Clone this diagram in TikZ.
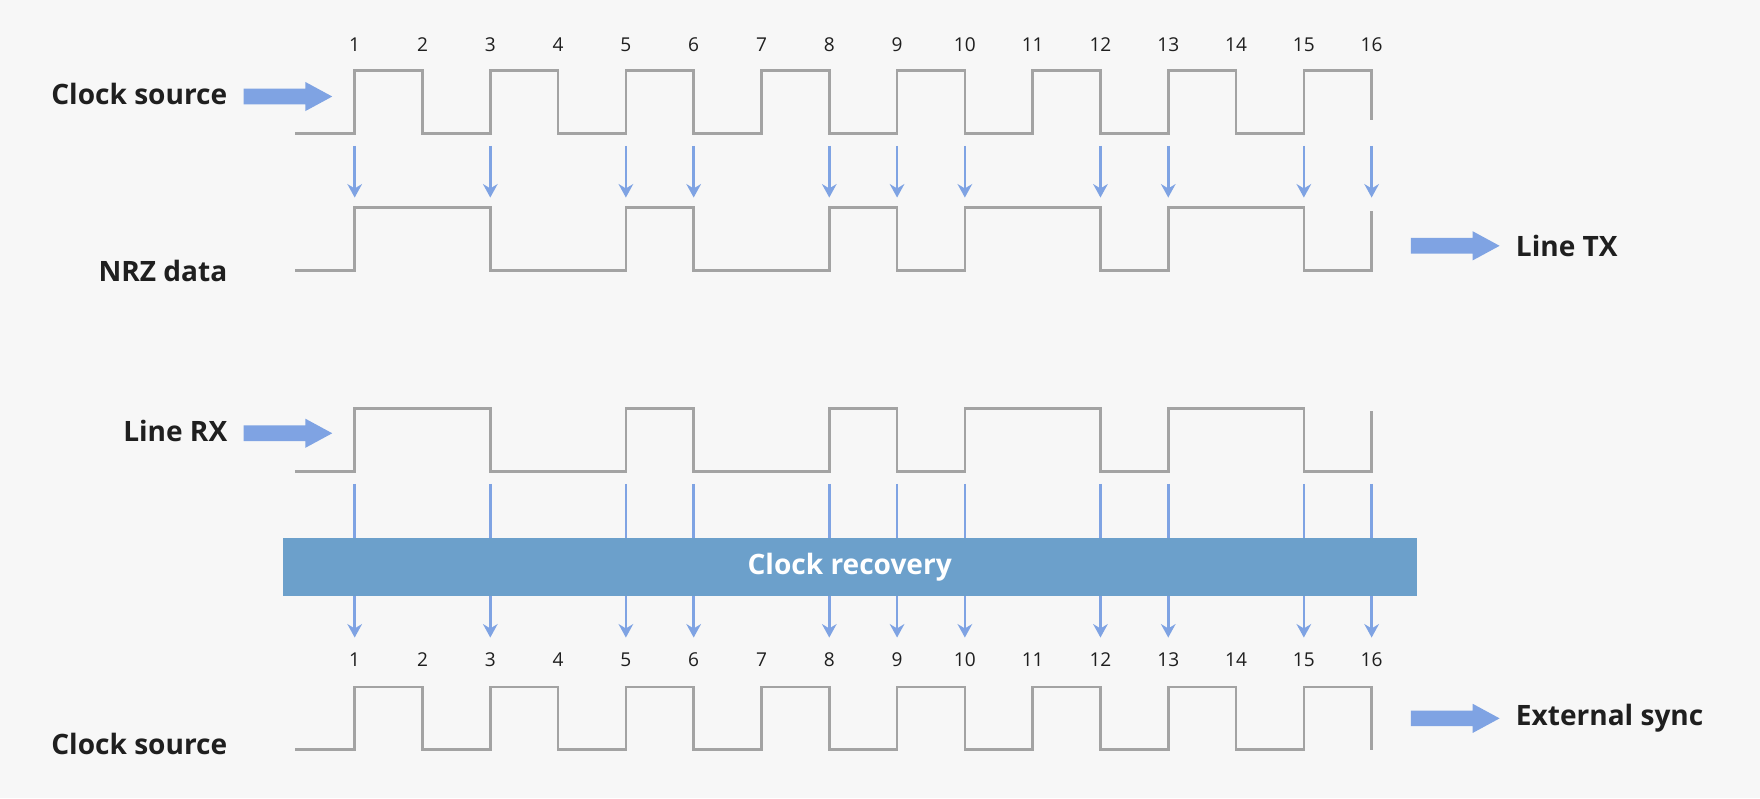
\documentclass[tikz,border=0pt]{standalone}
\usepackage{fontspec}
\setmainfont{Open Sans}
\usetikzlibrary{arrows.meta}
\definecolor{bg}{HTML}{F7F7F7}
\definecolor{wave}{HTML}{A3A3A3}
\definecolor{arr}{HTML}{7FA3E3}
\definecolor{box}{HTML}{6CA0CB}
\begin{document}
\begin{tikzpicture}[x=1pt,y=-1pt,
  wave/.style={draw=wave,line width=2.4pt,line join=miter},
  lbl/.style={font=\fontsize{25}{29}\selectfont\bfseries,text=black!88},
  num/.style={font=\fontsize{17}{20}\selectfont,text=black!88},
  tick/.style={draw=arr,line width=2.4pt,-{Stealth[length=12pt,width=13pt]}},
  tickn/.style={draw=arr,line width=2.4pt},
  fat/.style={fill=arr}]
\fill[bg] (0,0) rectangle (1568,711);
\useasboundingbox (0,0) rectangle (1568,711);
\newcommand\XX[1]{{316+60.4*(#1-1)}}
% numbers
\foreach \k in {1,...,16}{
  \node[num] (nt\k) at (\XX{\k},40) {\k};
  \node[num] (nb\k) at (\XX{\k},588) {\k};
}
% top clock
\draw[wave] (263,119) foreach \k/\a/\b in {1/119/63,2/63/119,3/119/63,4/63/119,5/119/63,6/63/119,7/119/63,8/63/119,9/119/63,10/63/119,11/119/63,12/63/119,13/119/63,14/63/119,15/119/63,16/63/107}{ -- (\XX{\k},\a) -- (\XX{\k},\b)};
% bottom clock
\draw[wave] (263,668) foreach \k/\a/\b in {1/668/612,2/612/668,3/668/612,4/612/668,5/668/612,6/612/668,7/668/612,8/612/668,9/668/612,10/612/668,11/668/612,12/612/668,13/668/612,14/612/668,15/668/612,16/612/668}{ -- (\XX{\k},\a) -- (\XX{\k},\b)};
% NRZ
\draw[wave] (263,241) foreach \k/\a/\b in {1/241/185,3/185/241,5/241/185,6/185/241,8/241/185,9/185/241,10/241/185,12/185/241,13/241/185,15/185/241,16/241/188}{ -- (\XX{\k},\a) -- (\XX{\k},\b)};
% RX
\draw[wave] (263,420) foreach \k/\a/\b in {1/420/364,3/364/420,5/420/364,6/364/420,8/420/364,9/364/420,10/420/364,12/364/420,13/420/364,15/364/420,16/420/366}{ -- (\XX{\k},\a) -- (\XX{\k},\b)};
% recovery box
\node[fill=box,minimum width=1010pt,minimum height=52pt,inner sep=0pt,text=white,font=\fontsize{25}{29}\selectfont\bfseries] (rec) at (757,505) {Clock recovery};
% ticks
\foreach \k in {1,3,5,6,8,9,10,12,13,15,16}{
  \coordinate (a\k) at (\XX{\k},130); \coordinate (b\k) at (\XX{\k},176);
  \draw[tick] (a\k) -- (b\k);
  \coordinate (c\k) at (\XX{\k},431); \coordinate (d\k) at (\XX{\k},479);
  \draw[tickn] (c\k) -- (d\k);
  \coordinate (e\k) at (\XX{\k},531); \coordinate (f\k) at (\XX{\k},568);
  \draw[tick] (e\k) -- (f\k);
}
% labels
\node[lbl,anchor=east] (l1) at (206,84) {Clock source};
\node[lbl,anchor=east] (l2) at (206,241) {NRZ data};
\node[lbl,anchor=east] (l3) at (206,384) {Line RX};
\node[lbl,anchor=east] (l4) at (206,663) {Clock source};
\node[lbl,anchor=west] (l5) at (1347,219) {Line TX};
\node[lbl,anchor=west] (l6) at (1347,640) {External sync};
% fat arrows
\newcommand\fatarrow[2]{\fill[arr] (#1,#2-7) -- (#1+55,#2-7) -- (#1+55,#2-13) -- (#1+79,#2) -- (#1+55,#2+13) -- (#1+55,#2+7) -- (#1,#2+7) -- cycle;}
\fatarrow{217}{86}
\fatarrow{217}{386}
\fatarrow{1257}{219}
\fatarrow{1257}{640}
\end{tikzpicture}
\end{document}
